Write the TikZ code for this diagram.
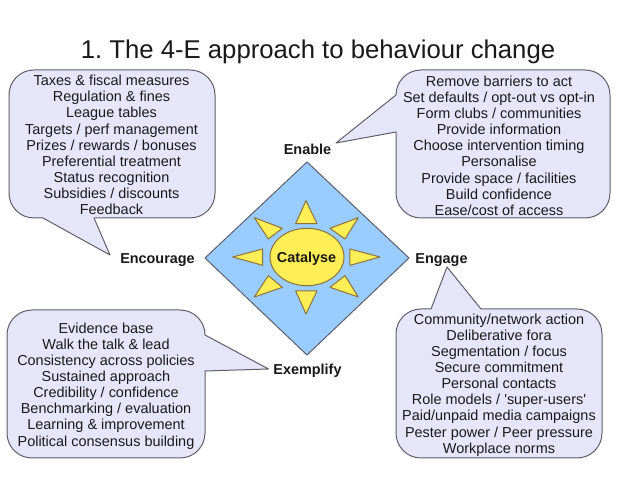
\documentclass[tikz,border=0pt]{standalone}
\usepackage{fontspec}
\setmainfont{Liberation Sans}
\definecolor{bub}{RGB}{230,230,250}
\definecolor{bubline}{RGB}{95,95,105}
\definecolor{dia}{RGB}{153,204,255}
\definecolor{sun}{RGB}{255,238,85}
\definecolor{sunline}{RGB}{140,115,60}
\tikzset{
 bubble/.style={fill=bub,draw=bubline,line width=1pt,line join=round},
 bubtext/.style={align=center,font=\fontsize{14.45}{16.1}\selectfont,text=black!90,inner sep=0pt},
 lab/.style={font=\bfseries\fontsize{14.4}{16}\selectfont,inner sep=0pt,text=black!90},
 ray/.style={fill=sun,draw=sunline,line width=1pt,line join=round}
}
\begin{document}
\begin{tikzpicture}[x=1pt,y=-1pt]
\frenchspacing
\useasboundingbox[fill=white] (0,0) rectangle (638,478);
\node[inner sep=0pt,font=\fontsize{25.7}{28}\selectfont,text=black!90] (title) at (318,52) {1. The 4-E approach to behaviour change};
% bubbles
\draw[bubble] (34,70) -- (190,70) arc[start angle=-90,end angle=0,x radius=25,y radius=25] -- (215,193) arc[start angle=0,end angle=90,x radius=25,y radius=25] -- (94,218) -- (110,255) -- (43,218) -- (34,218) arc[start angle=90,end angle=180,x radius=25,y radius=25] -- (9,95) arc[start angle=180,end angle=270,x radius=25,y radius=25] -- cycle;
\draw[bubble] (421,70) -- (585,70) arc[start angle=-90,end angle=0,x radius=25,y radius=25] -- (610,193) arc[start angle=0,end angle=90,x radius=25,y radius=25] -- (421,218) arc[start angle=90,end angle=180,x radius=25,y radius=25] -- (396,132) -- (336,143) -- (396,95) arc[start angle=180,end angle=270,x radius=25,y radius=25] -- cycle;
\draw[bubble] (32,310) -- (180,310) arc[start angle=-90,end angle=0,x radius=25,y radius=25] -- (268.5,369) -- (205,371) -- (205,433) arc[start angle=0,end angle=90,x radius=25,y radius=25] -- (32,458) arc[start angle=90,end angle=180,x radius=25,y radius=25] -- (7,335) arc[start angle=180,end angle=270,x radius=25,y radius=25] -- cycle;
\draw[bubble] (421,309) -- (431,309) -- (447,267) -- (481,309) -- (577,309) arc[start angle=-90,end angle=0,x radius=25,y radius=25] -- (602,433) arc[start angle=0,end angle=90,x radius=25,y radius=25] -- (421,458) arc[start angle=90,end angle=180,x radius=25,y radius=25] -- (396,334) arc[start angle=180,end angle=270,x radius=25,y radius=25] -- cycle;
\node[bubtext] (tl) at (111.5,145) {Taxes \& fiscal measures\\Regulation \& fines\\League tables\\Targets / perf management\\Prizes / rewards / bonuses\\Preferential treatment\\Status recognition\\Subsidies / discounts\\Feedback};
\node[bubtext] (tr) at (499,145.7) {Remove barriers to act\\Set defaults / opt-out vs opt-in\\Form clubs / communities\\Provide information\\Choose intervention timing\\Personalise\\Provide space / facilities\\Build confidence\\Ease/cost of access};
\node[bubtext] (bl) at (106,386) {Evidence base\\Walk the talk \& lead\\Consistency across policies\\Sustained approach\\Credibility / confidence\\Benchmarking / evaluation\\Learning \& improvement\\Political consensus building};
\node[bubtext] (br) at (499,385) {Community/network action\\Deliberative fora\\Segmentation / focus\\Secure commitment\\Personal contacts\\Role models / \textquotesingle super-users\textquotesingle\\Paid/unpaid media campaigns\\Pester power / Peer pressure\\Workplace norms};
% diamond and sun
\path[fill=dia,draw=bubline,line width=1pt,line join=round] (307,162) -- (409,258) -- (307,355) -- (205,258) -- cycle;
\begin{scope}[shift={(220,130)},x=0.3333pt,y=-0.3333pt]
\draw[ray] (258,212) -- (291,281) -- (227,281) -- cycle;
\draw[ray] (415,263) -- (375,327) -- (330,295) -- cycle;
\draw[ray] (480,381) -- (390,406) -- (390,357) -- cycle;
\draw[ray] (415,501) -- (330,472) -- (375,437) -- cycle;
\draw[ray] (258,552) -- (227,483) -- (291,483) -- cycle;
\draw[ray] (103,501) -- (145,437) -- (187,472) -- cycle;
\draw[ray] (38,381) -- (128,357) -- (128,406) -- cycle;
\draw[ray] (103,263) -- (187,295) -- (145,327) -- cycle;
\end{scope}
\draw[ray] (307,257) ellipse[x radius=37,y radius=28.7];
\node[lab] (cat) at (306.5,259) {Catalyse};
\node[lab] (enable) at (307.5,149.5) {Enable};
\node[lab] (enc) at (157.5,259.7) {Encourage};
\node[lab] (eng) at (441.5,259.7) {Engage};
\node[lab] (exe) at (307.5,371) {Exemplify};
\end{tikzpicture}
\end{document}
